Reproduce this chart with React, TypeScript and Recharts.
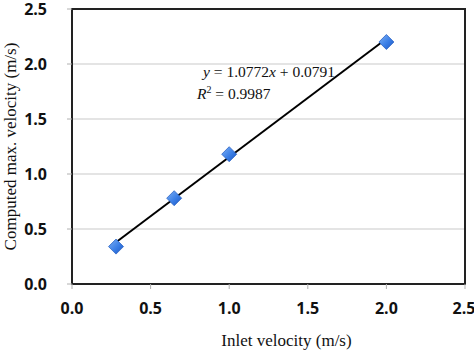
import {
  CartesianGrid,
  ReferenceArea,
  Scatter,
  ScatterChart,
  XAxis,
  YAxis,
} from "recharts";

// Measured points (inlet velocity vs computed max. velocity)
const inletVelocity = [0.28, 0.65, 1.0, 2.0];
const computedMax = [0.34, 0.78, 1.18, 2.2];

// Linear trendline endpoints (y = 1.0772x + 0.0791)
const trendX = [0.28, 2.0];
const trendY = [0.38, 2.23];

const ticks = [0, 0.5, 1.0, 1.5, 2.0, 2.5];

const points = inletVelocity.map((x, i) => ({ x, y: computedMax[i] }));
const trend = trendX.map((x, i) => ({ x, y: trendY[i] }));

const W = 474;
const H = 352;

function Diamond(props: any) {
  const { cx, cy } = props;
  if (cx == null || cy == null) return null;
  const r = 7.5;
  return (
    <g>
      <defs>
        <linearGradient id="diaFill" x1="0" y1="0" x2="1" y2="1">
          <stop offset="0%" stopColor="#7fb2f5" />
          <stop offset="55%" stopColor="#3a7ee6" />
          <stop offset="100%" stopColor="#1c56c0" />
        </linearGradient>
      </defs>
      <polygon
        points={`${cx},${cy - r} ${cx + r},${cy} ${cx},${cy + r} ${cx - r},${cy}`}
        fill="url(#diaFill)"
        stroke="#2a62c4"
        strokeWidth={0.8}
      />
    </g>
  );
}

const tickFont = { fontFamily: "'Open Sans', sans-serif", fontWeight: 700, fontSize: 16, fill: "#111" };
const serif = "'Liberation Serif', 'Times New Roman', serif";

export default function App() {
  return (
    <div style={{ position: "absolute", left: 0, top: 0, width: W, height: H, background: "#fff" }}>
      <ScatterChart width={W} height={H} margin={{ top: 9, right: 9, bottom: 0, left: 0 }}>
        <CartesianGrid horizontal vertical={false} stroke="#c9c9c9" strokeWidth={1} />
        <XAxis
          type="number"
          dataKey="x"
          domain={[0, 2.5]}
          ticks={ticks}
          tickFormatter={(v: number) => v.toFixed(1)}
          height={68}
          tickSize={5}
          tickMargin={14}
          tick={tickFont}
          axisLine={{ stroke: "#222", strokeWidth: 2 }}
          tickLine={{ stroke: "#b0b0b0" }}
          label={{ value: "Inlet velocity (m/s)", position: "insideBottom", offset: 6, dx: 18, style: { fontFamily: serif, fontSize: 17, fill: "#111" } }}
        />
        <YAxis
          type="number"
          dataKey="y"
          domain={[0, 2.5]}
          ticks={ticks}
          tickFormatter={(v: number) => v.toFixed(1)}
          width={72}
          tickSize={5}
          tickMargin={20}
          tick={tickFont}
          axisLine={{ stroke: "#222", strokeWidth: 2 }}
          tickLine={{ stroke: "#b0b0b0" }}
          label={{ value: "Computed max. velocity (m/s)", angle: -90, position: "insideLeft", offset: 10, textAnchor: "middle", style: { fontFamily: serif, fontSize: 17, fill: "#111", textAnchor: "middle" } }}
        />
        <ReferenceArea x1={0} x2={2.5} y1={0} y2={2.5} fill="none" stroke="#222" strokeWidth={2} ifOverflow="visible" />
        <Scatter
          data={trend}
          line={{ stroke: "#000", strokeWidth: 2 }}
          shape={() => <g />}
          isAnimationActive={false}
        />
        <Scatter data={points} shape={Diamond} isAnimationActive={false} />
      </ScatterChart>
      <div
        style={{
          position: "absolute",
          left: 203,
          top: 63,
          fontFamily: serif,
          fontSize: 15.5,
          color: "#111",
          whiteSpace: "nowrap",
          lineHeight: "18px",
        }}
      >
        <i>y</i> = 1.0772<i>x</i> + 0.0791
      </div>
      <div
        style={{
          position: "absolute",
          left: 197,
          top: 85,
          fontFamily: serif,
          fontSize: 15.5,
          color: "#111",
          whiteSpace: "nowrap",
          lineHeight: "18px",
        }}
      >
        <i>R</i>
        <sup style={{ fontSize: 10, verticalAlign: "6px", lineHeight: 0 }}>2</sup> = 0.9987
      </div>
    </div>
  );
}
